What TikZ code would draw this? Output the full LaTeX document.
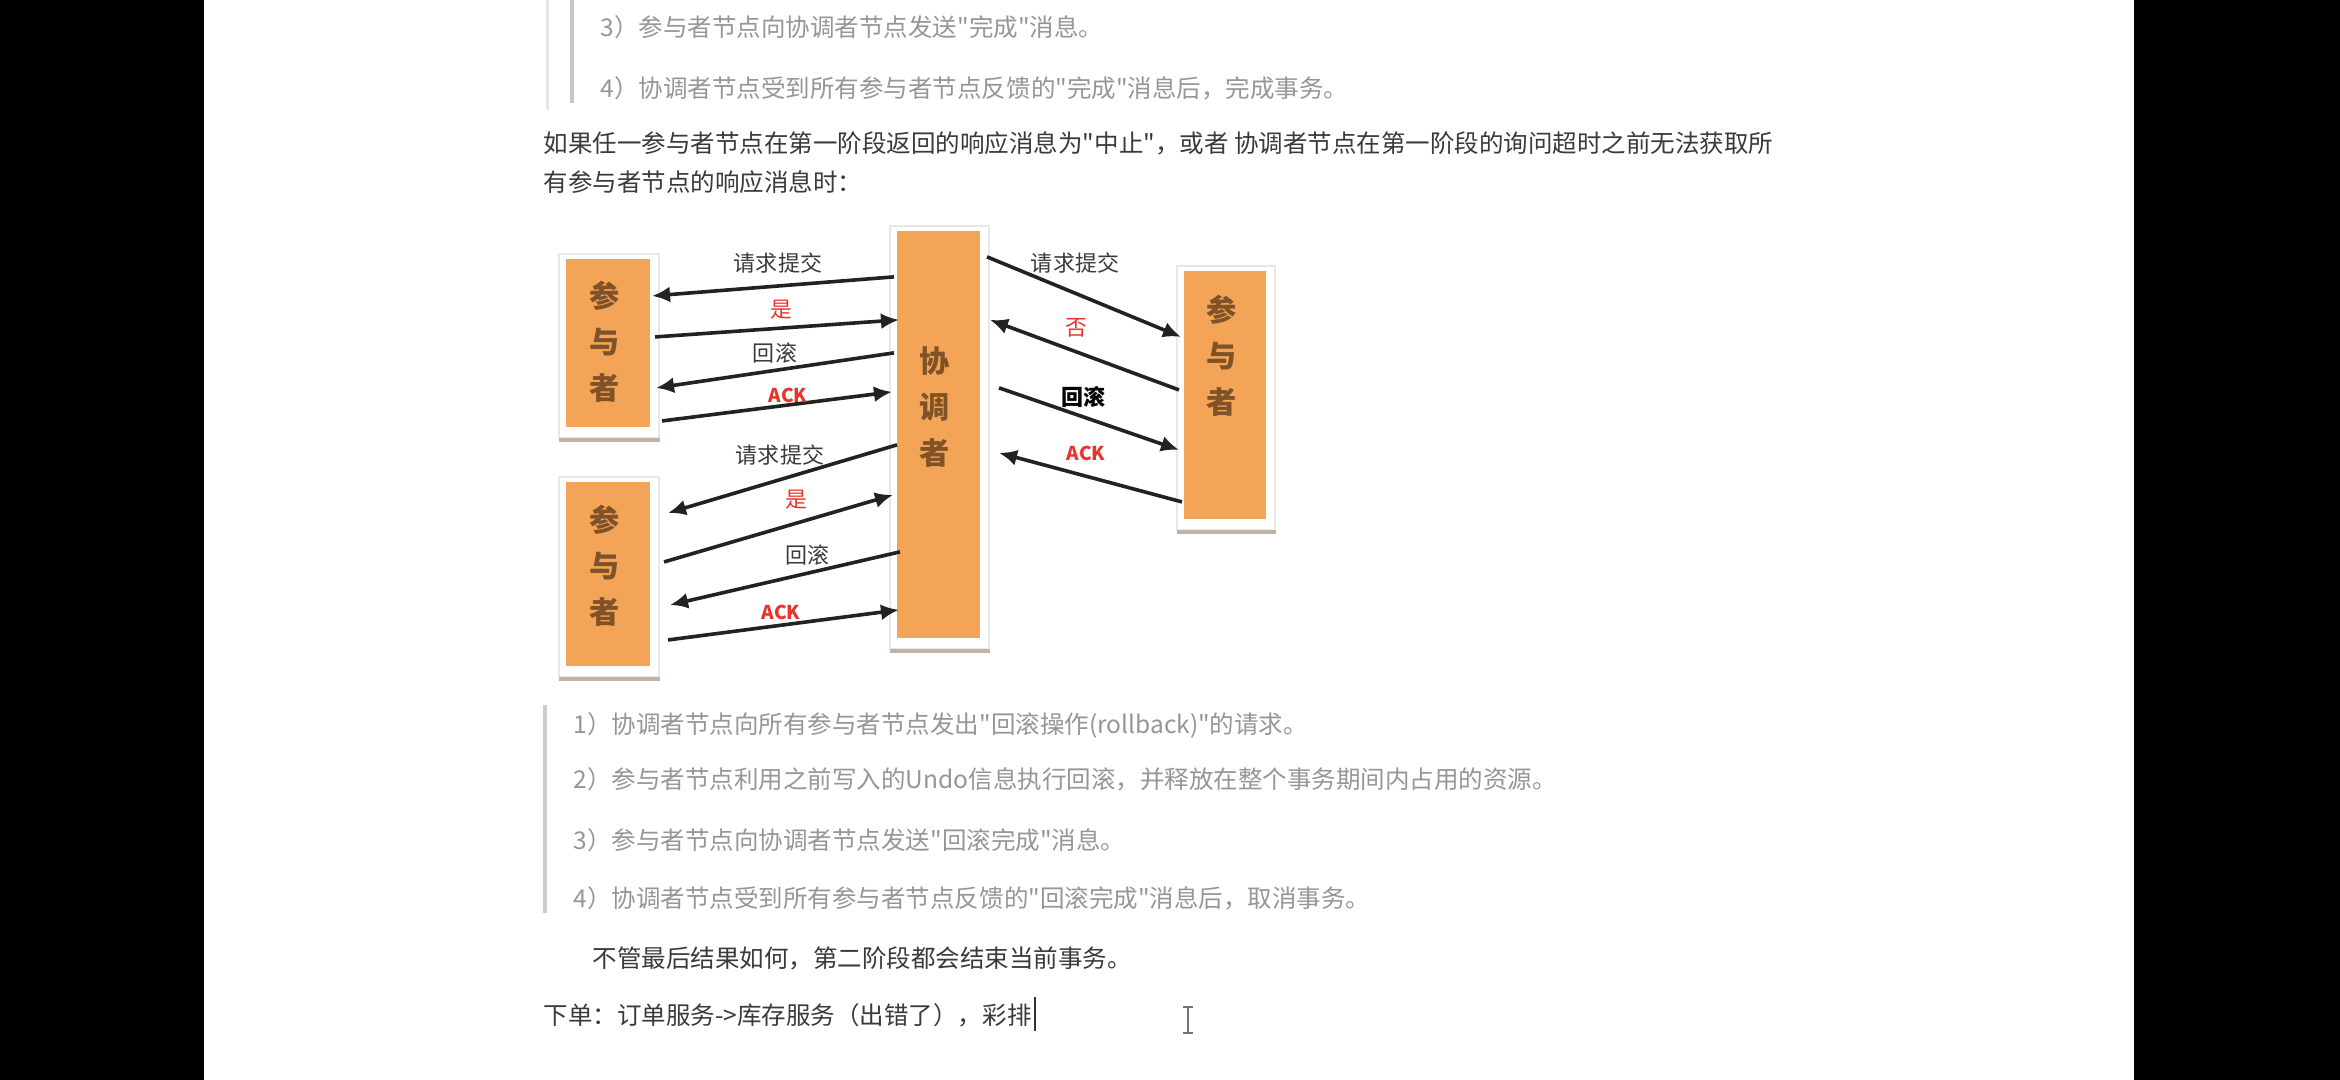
\documentclass[tikz,border=0pt]{standalone}
\usepackage{fontspec}
\setmainfont{Noto Sans CJK SC}[Ligatures=TeXOff]
\usetikzlibrary{arrows.meta,calc}

\definecolor{boxorange}{RGB}{243,164,87}
\definecolor{boxink}{RGB}{128,82,40}
\definecolor{boxedge}{RGB}{192,178,164}
\definecolor{msgred}{RGB}{232,52,42}
\definecolor{pagegray}{RGB}{150,150,150}
\definecolor{pageink}{RGB}{58,58,58}
\definecolor{lineink}{RGB}{34,34,34}

\tikzset{
  pbox/.style={rectangle, fill=boxorange, draw=none, inner sep=0pt, outer sep=0pt},
  boxframe/.style={draw=black!9, line width=0.015cm},
  boxshade/.style={draw=boxedge, line width=0.04cm},
  boxtxt/.style={align=center, text=boxink, inner sep=0pt, font=\bfseries\fontsize{8.6pt}{13.1pt}\selectfont},
  msg/.style={-{Latex[length=0.18cm,width=0.16cm]}, line width=0.036cm, draw=lineink},
  lbl/.style={text=pageink, inner sep=0pt, font=\fontsize{6.26pt}{7pt}\selectfont},
  lblred/.style={text=msgred, inner sep=0pt, font=\fontsize{6.2pt}{7pt}\selectfont},
  ackred/.style={text=msgred, inner sep=0pt, font=\bfseries\fontsize{5.4pt}{7pt}\selectfont},
  gline/.style={anchor=west, inner sep=0pt, text=pagegray, font=\fontsize{6.97pt}{8pt}\selectfont},
  bline/.style={anchor=west, inner sep=0pt, text=pageink, font=\fontsize{6.97pt}{8pt}\selectfont}
}

\begin{document}
\begin{tikzpicture}[x=0.01cm, y=-0.01cm]
\useasboundingbox (0,0) rectangle (2340,1080);

% screen and page
\fill[black] (0,0) rectangle (2340,1080);
\fill[white] (204,0) rectangle (2134,1080);

% text above the figure
\draw[line width=0.03cm, black!10] (547,0) -- (547,110);
\draw[line width=0.035cm, black!22] (572,0) -- (572,103);
\node[gline] (oldthree) at (600,27) {3）参与者节点向协调者节点发送"完成"消息。};
\node[gline] (oldfour) at (600,88) {4）协调者节点受到所有参与者节点反馈的"完成"消息后，完成事务。};
\node[bline] (introa) at (543,143) {如果任一参与者节点在第一阶段返回的响应消息为"中止"，或者 协调者节点在第一阶段的询问超时之前无法获取所};
\node[bline] (introb) at (543,182) {有参与者节点的响应消息时：};

% boxes
\node[pbox, minimum width=0.84cm, minimum height=1.68cm] (partA) at (608,343) {};
\node[pbox, minimum width=0.84cm, minimum height=1.84cm] (partB) at (608,574) {};
\node[pbox, minimum width=0.83cm, minimum height=4.07cm] (coord) at (938.5,434.5) {};
\node[pbox, minimum width=0.82cm, minimum height=2.48cm] (partC) at (1225,395) {};

% frames round the boxes
\draw[boxframe] ([shift={(-7,-5)}]partA.north west) rectangle ([shift={(9,11)}]partA.south east);
\draw[boxshade] ([shift={(-7,13)}]partA.south west) -- ([shift={(10,13)}]partA.south east);
\draw[boxframe] ([shift={(-7,-5)}]partB.north west) rectangle ([shift={(9,11)}]partB.south east);
\draw[boxshade] ([shift={(-7,13)}]partB.south west) -- ([shift={(10,13)}]partB.south east);
\draw[boxframe] ([shift={(-7,-5)}]coord.north west) rectangle ([shift={(9,11)}]coord.south east);
\draw[boxshade] ([shift={(-7,13)}]coord.south west) -- ([shift={(10,13)}]coord.south east);
\draw[boxframe] ([shift={(-7,-5)}]partC.north west) rectangle ([shift={(9,11)}]partC.south east);
\draw[boxshade] ([shift={(-7,13)}]partC.south west) -- ([shift={(10,13)}]partC.south east);

\node[boxtxt] (partAtxt) at (605,342) {参\\与\\者};
\node[boxtxt] (partBtxt) at (605,566) {参\\与\\者};
\node[boxtxt] (coordtxt) at (935,407) {协\\调\\者};
\node[boxtxt] (partCtxt) at (1222,356) {参\\与\\者};

% upper left participant
\draw[msg] ($(coord.north west)+(-3,46)$) -- ($(partA.north east)+(2,37)$);
\draw[msg] ($(partA.north east)+(5,78)$) -- ($(coord.north west)+(2,89)$);
\draw[msg] ($(coord.north west)+(-3,122)$) -- ($(partA.north east)+(6,129)$);
\draw[msg] ($(partA.north east)+(12,162)$) -- ($(coord.north west)+(-5,161)$);
\node[lbl] (reqA) at (778,263) {请求提交};
\node[lblred] (yesA) at (781,310) {是};
\node[lbl] (rbA) at (775,353) {回滚};
\node[ackred] (ackA) at (788,395) {ACK};

% lower left participant
\draw[msg] ($(coord.north west)+(0,214)$) -- ($(partB.north east)+(18,31)$);
\draw[msg] ($(partB.north east)+(14,80)$) -- ($(coord.north west)+(-4,264)$);
\draw[msg] ($(coord.north west)+(3,321)$) -- ($(partB.north east)+(20,123)$);
\draw[msg] ($(partB.north east)+(18,158)$) -- ($(coord.north west)+(2,379)$);
\node[lbl] (reqB) at (780,455) {请求提交};
\node[lblred] (yesB) at (796,500) {是};
\node[lbl] (rbB) at (807,555) {回滚};
\node[ackred] (ackB) at (781,612) {ACK};

% right participant
\draw[msg] ($(coord.north east)+(7,26)$) -- ($(partC.north west)+(-3,66)$);
\draw[msg] ($(partC.north west)+(-5,119)$) -- ($(coord.north east)+(10,89)$);
\draw[msg] ($(coord.north east)+(19,157)$) -- ($(partC.north west)+(-5,179)$);
\draw[msg] ($(partC.north west)+(-2,231)$) -- ($(coord.north east)+(19,222)$);
\node[lbl] (reqC) at (1075,263) {请求提交};
\node[lblred] (noC) at (1076,328) {否};
\node[lbl, text=black, font=\bfseries\fontsize{6.26pt}{7pt}\selectfont] (rbC) at (1083,397) {回滚};
\node[ackred] (ackC) at (1086,453) {ACK};

% text below the figure
\draw[line width=0.035cm, black!20] (545,705) -- (545,913);
\node[gline] (rbone) at (573,725) {1）协调者节点向所有参与者节点发出"回滚操作(rollback)"的请求。};
\node[gline] (rbtwo) at (573,779) {2）参与者节点利用之前写入的Undo信息执行回滚，并释放在整个事务期间内占用的资源。};
\node[gline] (rbthree) at (573,840) {3）参与者节点向协调者节点发送"回滚完成"消息。};
\node[gline] (rbfour) at (573,898) {4）协调者节点受到所有参与者节点反馈的"回滚完成"消息后，取消事务。};
\node[bline] (summary) at (592,958) {不管最后结果如何，第二阶段都会结束当前事务。};
\node[bline] (order) at (543,1015) {下单：订单服务->库存服务（出错了），彩排};

% cursors
\draw[line width=0.02cm, black!80] ($(order.east)+(3,-18)$) -- ($(order.east)+(3,16)$);
\draw[line width=0.025cm, black!55] (1188,1008) -- (1188,1032);
\draw[line width=0.02cm, black!55] (1183,1007) -- (1193,1007);
\draw[line width=0.02cm, black!55] (1183,1033) -- (1193,1033);

\end{tikzpicture}
\end{document}
